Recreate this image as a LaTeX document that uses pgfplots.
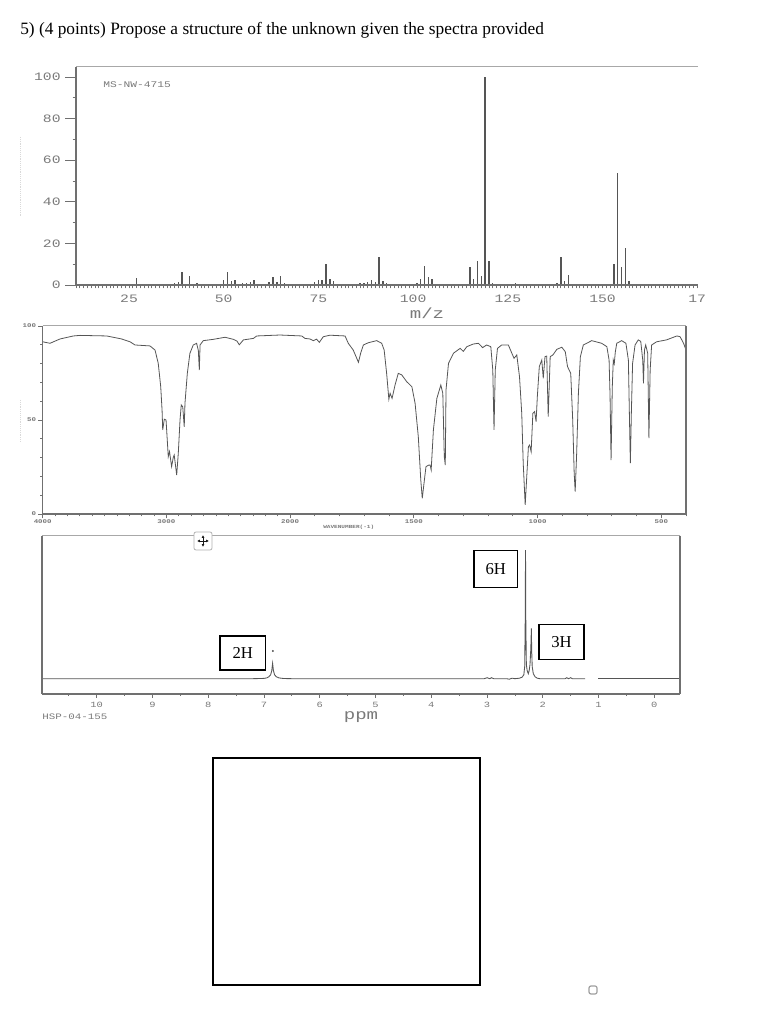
\documentclass[border=0pt]{standalone}
\usepackage{fontspec}
\setmainfont{Liberation Serif}
\newfontfamily\plotfont[FakeStretch=1.3]{Liberation Mono}
\usepackage{graphicx}
\usepackage{pgfplots}
\pgfplotsset{compat=1.18}
\usetikzlibrary{arrows.meta}

\definecolor{specline}{HTML}{555555}
\definecolor{frameline}{HTML}{A8A8A8}
\definecolor{framedark}{HTML}{707070}
\definecolor{ticktext}{HTML}{7A7A7A}
\newcommand{\pf}[1]{\plotfont\fontsize{#1}{#1}\selectfont}

% MS peaks: m/z, relative intensity
\pgfplotstableread{
mz  int
27  3.2
37  1.0
38  1.2
39  6.4
41  4.3
43  1.0
50  2.6
51  6.4
52  2.0
53  2.5
55  1.0
56  1.0
57  1.5
58  2.5
62  1.5
63  3.7
64  1.5
65  4.3
66  1.0
74  1.5
75  2.5
76  2.5
77  10.0
78  3.0
79  2.0
86  1.0
87  1.0
88  1.2
89  2.5
90  1.5
91  13.6
92  2.0
93  1.0
101 1.0
102 3.0
103 9.3
104 3.7
105 3.0
115 8.8
116 2.9
117 11.4
118 4.3
119 100
120 11.5
121 1.0
127 0.8
138 1.0
139 13.4
140 2.0
141 4.8
153 10.0
154 53.7
155 8.7
156 17.9
157 2.0
}\msdata

\begin{document}
\begin{tikzpicture}[x=0.75pt,y=0.75pt]
\fill[white] (0,0) rectangle (776,1024);

\node[anchor=west, font=\fontsize{13}{15}\selectfont, inner sep=0pt] at (20,994)
  {5) (4 points) Propose a structure of the unknown given the spectra provided};

% faint marks left of the spectra
\draw[gray!30, densely dotted, line width=0.4pt] (20,887) -- (20,807);
\draw[gray!30, densely dotted, line width=0.4pt] (20,624) -- (20,582);

% ---------------- mass spectrum
\begin{axis}[
  at={(57pt,554.25pt)}, anchor=south west, scale only axis,
  width=466.5pt, height=163.5pt,
  xmin=11, xmax=175.2, ymin=0, ymax=104.8,
  clip=false,
  axis line style={draw=none},
  tick align=outside,
  xtick pos=bottom, ytick pos=left,
  major tick length=8pt, minor tick length=2.5pt,
  tick style={framedark, line width=0.6pt},
  xtick={25,50,75,100,125,150,175},
  xticklabels={25,50,75,100,125,150,17},
  major x tick style={draw=none},
  minor xtick={11,12,...,175},
  ytick={0,20,40,60,80,100},
  yticklabels={0,20,40,60,80,100},
  minor ytick={10,30,50,70,90},
  xticklabel style={font=\pf{8.5}, text=ticktext},
  yticklabel style={font=\pf{8.5}, text=ticktext},
  xticklabel shift=-4pt,
]
\addplot[ycomb, color=specline, line width=1.1pt, mark=none] table[x=mz, y=int] {\msdata};
\draw[framedark, line width=1.1pt] (axis cs:11,0) -- (axis cs:11,104.8);
\draw[frameline, line width=0.75pt] (axis cs:11,104.8) -- (axis cs:175.2,104.8);
\draw[framedark, line width=0.8pt] (axis cs:11,0) -- (axis cs:175.2,0);
\end{axis}
\node[anchor=west, font=\pf{6.5}, text=ticktext, inner sep=0pt] at (103,939) {MS-NW-4715};
\node[font=\pf{11}, text=ticktext, inner sep=0pt] at (427,711) {m/z};

% ---------------- IR spectrum (x: wavenumber, 4000-2000 on half scale)
\begin{axis}[
  at={(32.025pt,382.5pt)}, anchor=south west, scale only axis,
  width=482.5pt, height=141pt,
  xmin=0, xmax=2600, ymin=0, ymax=100,
  clip=false,
  axis line style={draw=none},
  tick align=outside,
  xtick pos=bottom, ytick pos=left,
  major tick length=3.2pt, minor tick length=1.8pt,
  tick style={framedark, line width=0.6pt},
  xtick={0,500,1000,1500,2000,2500},
  xticklabels={4000,3000,2000,1500,1000,500},
  minor xtick={50,100,...,950,1100,1200,...,2400,2600},
  ytick={0,50,100},
  yticklabels={0,50,100},
  minor ytick={10,20,30,40,60,70,80,90},
  xticklabel style={font=\plotfont\bfseries\fontsize{4.3}{5}\selectfont, text=ticktext, inner sep=0.8pt},
  yticklabel style={font=\plotfont\bfseries\fontsize{4.3}{5}\selectfont, text=ticktext, inner sep=1.5pt},
]
\addplot[color=specline, line width=0.6pt, mark=none,
  x filter/.expression={x>=2000 ? (4000-x)/2 : 3000-x}] coordinates {
(4000,91.6) (3941,90.8) (3860,93.1) (3752,94.7) (3698,95.0) (3483,94.7) (3362,93.1)
(3294,91.6) (3254,89.9) (3133,89.4) (3092,87.2) (3066,80.1) (3046,67.7) (3035,55.0)
(3030,44.7) (3017,50.4) (3003,50.0) (2985,30.5) (2975,33.2) (2958,25.2) (2945,30.0)
(2937,31.4) (2917,20.7) (2904,32.3) (2890,50.0) (2880,58.0) (2868,57.0) (2856,46.4)
(2850,58.9) (2831,74.8) (2810,85.5) (2783,89.9) (2756,90.8) (2742,87.0) (2734,76.6)
(2728,89.9) (2702,92.2) (2621,92.9) (2526,94.0) (2459,92.9) (2430,92.0) (2411,90.0)
(2378,92.6) (2297,93.4) (2270,94.7) (2082,95.2) (1953,94.7) (1940,93.4) (1920,93.1)
(1906,92.2) (1893,93.0) (1882,91.3) (1866,94.3) (1839,95.1) (1778,94.7) (1765,90.8)
(1745,87.2) (1724,80.7) (1715,85.5) (1704,89.9) (1684,91.1) (1650,92.2) (1630,90.8)
(1620,87.2) (1610,74.8) (1601,61.0) (1596,64.2) (1588,61.5) (1576,68.6) (1563,74.8)
(1549,74.0) (1529,70.4) (1508,67.7) (1495,58.9) (1482,41.1) (1472,18.1) (1466,8.3)
(1459,16.3) (1451,25.2) (1440,26.0) (1434,26.0) (1430,23.4) (1421,44.7) (1407,61.5)
(1391,68.6) (1383,64.2) (1377,30.5) (1373,26.0) (1370,66.0) (1360,80.1) (1340,85.5)
(1313,88.1) (1300,86.5) (1286,89.0) (1260,90.4) (1239,90.8) (1222,88.5) (1206,89.9)
(1189,89.0) (1181,76.6) (1176,44.7) (1171,76.6) (1162,88.1) (1145,89.9) (1118,89.9)
(1104,85.5) (1095,82.8) (1084,84.6) (1073,73.0) (1064,53.6) (1058,27.0) (1050,4.8)
(1043,21.6) (1037,35.8) (1032,36.7) (1026,33.1) (1019,53.6) (1012,54.5) (1006,49.1)
(1001,62.4) (993,78.4) (983,81.9) (977,72.2) (970,83.7) (963,84.0) (957,51.8)
(949,83.7) (938,84.6) (922,87.6) (902,88.7) (888,86.3) (879,78.4) (866,74.8)
(858,50.0) (852,21.6) (848,11.9) (842,32.3) (835,64.2) (827,83.7) (815,89.9)
(781,92.2) (741,90.8) (720,89.0) (711,81.9) (707,62.4) (703,28.7) (698,67.7)
(694,81.9) (690,80.0) (686,86.0) (680,90.8) (660,92.2) (643,90.8) (633,81.9)
(629,53.6) (625,27.0) (621,53.6) (616,80.1) (606,89.9) (593,92.6) (583,91.8)
(575,81.9) (572,69.5) (568,87.2) (563,89.9) (555,85.5) (550,40.3) (545,76.6)
(539,89.9) (519,91.6) (479,92.6) (437,94.7) (424,94.3) (410,90.8) (400,87.2)
};
\draw[framedark, line width=0.9pt] (axis cs:0,0) -- (axis cs:0,100);
\draw[frameline, line width=0.75pt] (axis cs:0,100) -- (axis cs:2600,100);
\draw[framedark, line width=0.9pt] (axis cs:2600,100) -- (axis cs:2600,0);
\draw[framedark, line width=0.8pt] (axis cs:0,0) -- (axis cs:2600,0);
\end{axis}
\node[anchor=west, font=\plotfont\bfseries\fontsize{3.5}{4}\selectfont, text=ticktext, inner sep=0pt] at (323,497) {WAVENUMBER(-1)};

% ---------------- 1H NMR spectrum
\begin{axis}[
  at={(31.5pt,247.5pt)}, anchor=south west, scale only axis,
  width=478.5pt, height=118.7pt,
  x dir=reverse,
  xmin=-0.46, xmax=10.98, ymin=-15.3, ymax=143,
  clip=false,
  axis line style={draw=none},
  tick align=outside,
  xtick pos=bottom,
  major tick length=2.8pt, minor tick length=1.5pt,
  tick style={framedark, line width=0.6pt},
  xtick={0,1,...,10},
  xticklabels={0,1,2,3,4,5,6,7,8,9,10},
  minor xtick={0.5,1.5,...,9.5,10.5},
  ytick=\empty,
  xticklabel style={font=\pf{6}, text=ticktext},
]
\addplot[color=specline, line width=0.65pt, mark=none] coordinates {
(10.98,0) (7.2,0) (7.0,0.3) (6.95,0.8) (6.91,2) (6.88,4) (6.86,8) (6.845,15.4)
(6.83,8) (6.81,4) (6.78,2) (6.73,0.8) (6.65,0.2) (6.5,0) (3.05,0) (3.0,1) (2.95,0)
(2.92,1) (2.88,0) (2.65,0) (2.6,-0.5) (2.55,0.5) (2.5,0) (2.42,0.5) (2.37,1.5)
(2.34,4) (2.325,12) (2.315,60) (2.31,128.7) (2.305,60) (2.295,14) (2.28,8)
(2.26,5) (2.245,8) (2.23,14) (2.215,30) (2.205,50.4) (2.2,30) (2.19,12) (2.17,5)
(2.14,2) (2.1,0.5) (2.05,0) (1.6,0) (1.57,1) (1.54,0) (1.5,1) (1.47,0) (1.24,0)
};
\addplot[color=specline, line width=0.65pt, mark=none] coordinates {
(1.01,0) (-0.46,0)
};
\addplot[only marks, mark=*, mark size=0.5pt, color=specline] coordinates {(6.84,27.7)};
\draw[framedark, line width=1.1pt] (axis cs:10.98,-15.3) -- (axis cs:10.98,143);
\draw[frameline, line width=0.75pt] (axis cs:10.98,143) -- (axis cs:-0.46,143);
\draw[framedark, line width=1.1pt] (axis cs:-0.46,143) -- (axis cs:-0.46,-15.3);
\draw[framedark, line width=1.1pt] (axis cs:10.98,-15.3) -- (axis cs:-0.46,-15.3);
\end{axis}
\node[anchor=base west, font=\pf{6.25}, text=ticktext, inner sep=0pt] at (42,304) {HSP-04-155};
\node[anchor=base, font=\pf{11}, text=ticktext, inner sep=0pt] at (361,304) {ppm};

% move icon
\draw[gray!60, fill=white, rounded corners=1.5pt, line width=0.6pt] (194,474) rectangle (212,492);
\draw[{Latex[length=2.2pt,width=2.2pt]}-{Latex[length=2.2pt,width=2.2pt]}, gray!20!black, line width=0.5pt] (197,483) -- (209,483);
\draw[{Latex[length=2.2pt,width=2.2pt]}-{Latex[length=2.2pt,width=2.2pt]}, gray!20!black, line width=0.5pt] (203,477) -- (203,489);

% integration boxes
\node[draw=black, line width=0.9pt, minimum width=34.3pt, minimum height=25.5pt, inner sep=0pt,
  font=\fontsize{12.5}{14}\selectfont] at (242.8,371) {2H};
\node[draw=black, line width=0.9pt, minimum width=32.5pt, minimum height=27.5pt, inner sep=0pt,
  font=\fontsize{12.5}{14}\selectfont] at (495.7,455) {6H};
\node[draw=black, line width=0.9pt, minimum width=33.8pt, minimum height=26.5pt, inner sep=0pt,
  font=\fontsize{12.5}{14}\selectfont] at (561.5,382) {3H};

% answer box and checkbox
\draw[black, line width=0.8pt] (213,39) rectangle (480,266);
\draw[gray!75, line width=0.9pt, rounded corners=1.5pt] (589,30) rectangle (597,38);
\end{tikzpicture}
\end{document}
